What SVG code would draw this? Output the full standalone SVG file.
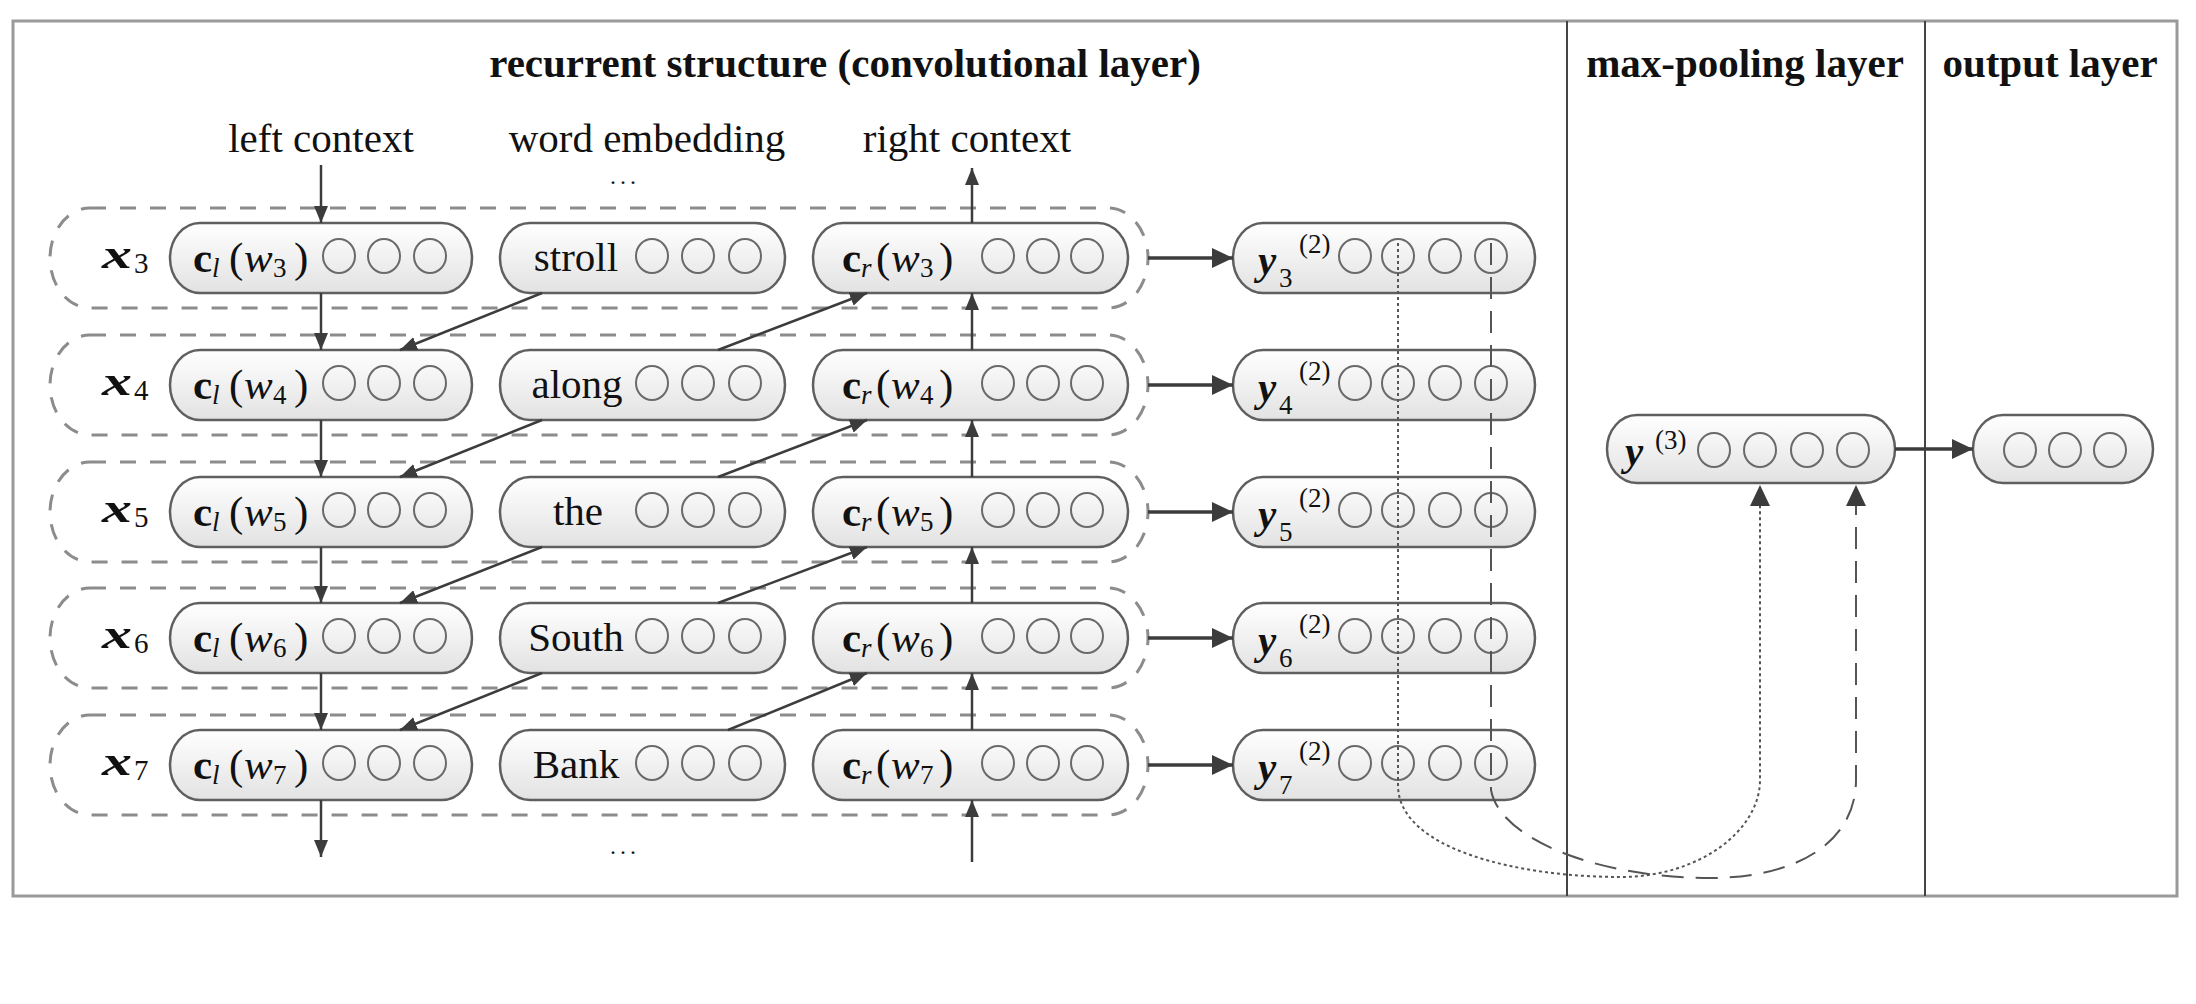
<svg xmlns="http://www.w3.org/2000/svg" width="2196" height="1004" viewBox="0 0 2196 1004">
<style>
.t{font-family:"Liberation Serif","Times New Roman",serif;font-size:41px;fill:#111}
.n{font-size:43px}
.b{font-weight:bold}
.i{font-style:italic}
.sub{font-size:27px}
.ell{font-size:24px;letter-spacing:4px}
.node{fill:url(#ng);stroke:#5f5f5f;stroke-width:2.5}
.cir{fill:none;stroke:#6a6a6a;stroke-width:2}
.grp{fill:none;stroke:#8c8c8c;stroke-width:3;stroke-dasharray:16 14}
.arr{fill:none;stroke:#3c3c3c;stroke-width:2.5;marker-end:url(#as)}
.harr{fill:none;stroke:#3c3c3c;stroke-width:3.5;marker-end:url(#ah)}
.dot{fill:none;stroke:#555;stroke-width:2;stroke-dasharray:3 3;marker-end:url(#ah)}
.dash{fill:none;stroke:#555;stroke-width:2;stroke-dasharray:22 12;marker-end:url(#ah)}
</style>
<defs>
<linearGradient id="ng" x1="0" y1="0" x2="0" y2="1">
<stop offset="0" stop-color="#ffffff"/>
<stop offset="1" stop-color="#e2e2e2"/>
</linearGradient>
<marker id="as" markerUnits="userSpaceOnUse" markerWidth="17" markerHeight="14" refX="17" refY="7" orient="auto">
<path d="M0,0 L17,7 L0,14 z" fill="#3c3c3c"/>
</marker>
<marker id="ah" markerUnits="userSpaceOnUse" markerWidth="21" markerHeight="20" refX="21" refY="10" orient="auto">
<path d="M0,0 L21,10 L0,20 z" fill="#3c3c3c"/>
</marker>
</defs>
<rect width="2196" height="1004" fill="#fff"/>
<g id="frame">
<rect x="13" y="21" width="2164" height="875" fill="none" stroke="#9a9a9a" stroke-width="3"/>
<line x1="1567" y1="21" x2="1567" y2="896" stroke="#444" stroke-width="2"/>
<line x1="1925" y1="21" x2="1925" y2="896" stroke="#444" stroke-width="2"/>
</g>
<g id="headers">
<text class="t b" x="845" y="77" text-anchor="middle">recurrent structure (convolutional layer)</text>
<text class="t b" x="1745" y="77" text-anchor="middle">max-pooling layer</text>
<text class="t b" x="2050" y="77" text-anchor="middle">output layer</text>
<text class="t" x="321" y="152" text-anchor="middle">left context</text>
<text class="t" x="647" y="152" text-anchor="middle">word embedding</text>
<text class="t" x="967" y="152" text-anchor="middle">right context</text>
<text class="t ell" x="625" y="184" text-anchor="middle">...</text>
<text class="t ell" x="625" y="854" text-anchor="middle">...</text>
</g>
<g id="groups">
<rect class="grp" x="50" y="208" width="1098" height="100" rx="40" ry="50"/>
<rect class="grp" x="50" y="335" width="1098" height="100" rx="40" ry="50"/>
<rect class="grp" x="50" y="462" width="1098" height="100" rx="40" ry="50"/>
<rect class="grp" x="50" y="588" width="1098" height="100" rx="40" ry="50"/>
<rect class="grp" x="50" y="715" width="1098" height="100" rx="40" ry="50"/>
</g>
<g id="row3">
<g id="x3"><text class="t"><tspan class="b i" x="102" y="268" textLength="30" lengthAdjust="spacingAndGlyphs">x</tspan><tspan x="134" y="273" font-size="29">3</tspan></text></g>
<g id="cl3"><rect class="node" x="170" y="223" width="302" height="70" rx="30" ry="35"/><text class="t n"><tspan class="b" x="193" y="272">c</tspan><tspan class="i sub" x="212" y="277">l</tspan><tspan x="229" y="272">(</tspan><tspan class="i" x="244" y="272">w</tspan><tspan class="sub" x="273" y="277">3</tspan><tspan x="294" y="272">)</tspan></text><ellipse class="cir" cx="339" cy="256" rx="16" ry="17"/><ellipse class="cir" cx="384" cy="256" rx="16" ry="17"/><ellipse class="cir" cx="430" cy="256" rx="16" ry="17"/></g>
<g id="word3"><rect class="node" x="500" y="223" width="285" height="70" rx="30" ry="35"/><text class="t" x="576" y="271" text-anchor="middle">stroll</text><ellipse class="cir" cx="652" cy="256" rx="16" ry="17"/><ellipse class="cir" cx="698" cy="256" rx="16" ry="17"/><ellipse class="cir" cx="745" cy="256" rx="16" ry="17"/></g>
<g id="cr3"><rect class="node" x="813" y="223" width="315" height="70" rx="30" ry="35"/><text class="t n"><tspan class="b" x="842" y="272">c</tspan><tspan class="i sub" x="861" y="277">r</tspan><tspan x="876" y="272">(</tspan><tspan class="i" x="891" y="272">w</tspan><tspan class="sub" x="920" y="277">3</tspan><tspan x="939" y="272">)</tspan></text><ellipse class="cir" cx="998" cy="256" rx="16" ry="17"/><ellipse class="cir" cx="1043" cy="256" rx="16" ry="17"/><ellipse class="cir" cx="1087" cy="256" rx="16" ry="17"/></g>
<g id="y3"><rect class="node" x="1233" y="223" width="302" height="70" rx="30" ry="35"/><text class="t"><tspan class="b i" x="1258" y="274">y</tspan><tspan class="sub" x="1279" y="287">3</tspan><tspan class="sub" x="1299" y="253">(2)</tspan></text><ellipse class="cir" cx="1355" cy="256" rx="16" ry="17"/><ellipse class="cir" cx="1398" cy="256" rx="16" ry="17"/><ellipse class="cir" cx="1445" cy="256" rx="16" ry="17"/><ellipse class="cir" cx="1491" cy="256" rx="16" ry="17"/></g>
</g>
<g id="row4" transform="translate(0,127)">
<g id="x4"><text class="t"><tspan class="b i" x="102" y="268" textLength="30" lengthAdjust="spacingAndGlyphs">x</tspan><tspan x="134" y="273" font-size="29">4</tspan></text></g>
<g id="cl4"><rect class="node" x="170" y="223" width="302" height="70" rx="30" ry="35"/><text class="t n"><tspan class="b" x="193" y="272">c</tspan><tspan class="i sub" x="212" y="277">l</tspan><tspan x="229" y="272">(</tspan><tspan class="i" x="244" y="272">w</tspan><tspan class="sub" x="273" y="277">4</tspan><tspan x="294" y="272">)</tspan></text><ellipse class="cir" cx="339" cy="256" rx="16" ry="17"/><ellipse class="cir" cx="384" cy="256" rx="16" ry="17"/><ellipse class="cir" cx="430" cy="256" rx="16" ry="17"/></g>
<g id="word4"><rect class="node" x="500" y="223" width="285" height="70" rx="30" ry="35"/><text class="t" x="577" y="271" text-anchor="middle">along</text><ellipse class="cir" cx="652" cy="256" rx="16" ry="17"/><ellipse class="cir" cx="698" cy="256" rx="16" ry="17"/><ellipse class="cir" cx="745" cy="256" rx="16" ry="17"/></g>
<g id="cr4"><rect class="node" x="813" y="223" width="315" height="70" rx="30" ry="35"/><text class="t n"><tspan class="b" x="842" y="272">c</tspan><tspan class="i sub" x="861" y="277">r</tspan><tspan x="876" y="272">(</tspan><tspan class="i" x="891" y="272">w</tspan><tspan class="sub" x="920" y="277">4</tspan><tspan x="939" y="272">)</tspan></text><ellipse class="cir" cx="998" cy="256" rx="16" ry="17"/><ellipse class="cir" cx="1043" cy="256" rx="16" ry="17"/><ellipse class="cir" cx="1087" cy="256" rx="16" ry="17"/></g>
<g id="y4"><rect class="node" x="1233" y="223" width="302" height="70" rx="30" ry="35"/><text class="t"><tspan class="b i" x="1258" y="274">y</tspan><tspan class="sub" x="1279" y="287">4</tspan><tspan class="sub" x="1299" y="253">(2)</tspan></text><ellipse class="cir" cx="1355" cy="256" rx="16" ry="17"/><ellipse class="cir" cx="1398" cy="256" rx="16" ry="17"/><ellipse class="cir" cx="1445" cy="256" rx="16" ry="17"/><ellipse class="cir" cx="1491" cy="256" rx="16" ry="17"/></g>
</g>
<g id="row5" transform="translate(0,254)">
<g id="x5"><text class="t"><tspan class="b i" x="102" y="268" textLength="30" lengthAdjust="spacingAndGlyphs">x</tspan><tspan x="134" y="273" font-size="29">5</tspan></text></g>
<g id="cl5"><rect class="node" x="170" y="223" width="302" height="70" rx="30" ry="35"/><text class="t n"><tspan class="b" x="193" y="272">c</tspan><tspan class="i sub" x="212" y="277">l</tspan><tspan x="229" y="272">(</tspan><tspan class="i" x="244" y="272">w</tspan><tspan class="sub" x="273" y="277">5</tspan><tspan x="294" y="272">)</tspan></text><ellipse class="cir" cx="339" cy="256" rx="16" ry="17"/><ellipse class="cir" cx="384" cy="256" rx="16" ry="17"/><ellipse class="cir" cx="430" cy="256" rx="16" ry="17"/></g>
<g id="word5"><rect class="node" x="500" y="223" width="285" height="70" rx="30" ry="35"/><text class="t" x="578" y="271" text-anchor="middle">the</text><ellipse class="cir" cx="652" cy="256" rx="16" ry="17"/><ellipse class="cir" cx="698" cy="256" rx="16" ry="17"/><ellipse class="cir" cx="745" cy="256" rx="16" ry="17"/></g>
<g id="cr5"><rect class="node" x="813" y="223" width="315" height="70" rx="30" ry="35"/><text class="t n"><tspan class="b" x="842" y="272">c</tspan><tspan class="i sub" x="861" y="277">r</tspan><tspan x="876" y="272">(</tspan><tspan class="i" x="891" y="272">w</tspan><tspan class="sub" x="920" y="277">5</tspan><tspan x="939" y="272">)</tspan></text><ellipse class="cir" cx="998" cy="256" rx="16" ry="17"/><ellipse class="cir" cx="1043" cy="256" rx="16" ry="17"/><ellipse class="cir" cx="1087" cy="256" rx="16" ry="17"/></g>
<g id="y5"><rect class="node" x="1233" y="223" width="302" height="70" rx="30" ry="35"/><text class="t"><tspan class="b i" x="1258" y="274">y</tspan><tspan class="sub" x="1279" y="287">5</tspan><tspan class="sub" x="1299" y="253">(2)</tspan></text><ellipse class="cir" cx="1355" cy="256" rx="16" ry="17"/><ellipse class="cir" cx="1398" cy="256" rx="16" ry="17"/><ellipse class="cir" cx="1445" cy="256" rx="16" ry="17"/><ellipse class="cir" cx="1491" cy="256" rx="16" ry="17"/></g>
</g>
<g id="row6" transform="translate(0,380)">
<g id="x6"><text class="t"><tspan class="b i" x="102" y="268" textLength="30" lengthAdjust="spacingAndGlyphs">x</tspan><tspan x="134" y="273" font-size="29">6</tspan></text></g>
<g id="cl6"><rect class="node" x="170" y="223" width="302" height="70" rx="30" ry="35"/><text class="t n"><tspan class="b" x="193" y="272">c</tspan><tspan class="i sub" x="212" y="277">l</tspan><tspan x="229" y="272">(</tspan><tspan class="i" x="244" y="272">w</tspan><tspan class="sub" x="273" y="277">6</tspan><tspan x="294" y="272">)</tspan></text><ellipse class="cir" cx="339" cy="256" rx="16" ry="17"/><ellipse class="cir" cx="384" cy="256" rx="16" ry="17"/><ellipse class="cir" cx="430" cy="256" rx="16" ry="17"/></g>
<g id="word6"><rect class="node" x="500" y="223" width="285" height="70" rx="30" ry="35"/><text class="t" x="576" y="271" text-anchor="middle">South</text><ellipse class="cir" cx="652" cy="256" rx="16" ry="17"/><ellipse class="cir" cx="698" cy="256" rx="16" ry="17"/><ellipse class="cir" cx="745" cy="256" rx="16" ry="17"/></g>
<g id="cr6"><rect class="node" x="813" y="223" width="315" height="70" rx="30" ry="35"/><text class="t n"><tspan class="b" x="842" y="272">c</tspan><tspan class="i sub" x="861" y="277">r</tspan><tspan x="876" y="272">(</tspan><tspan class="i" x="891" y="272">w</tspan><tspan class="sub" x="920" y="277">6</tspan><tspan x="939" y="272">)</tspan></text><ellipse class="cir" cx="998" cy="256" rx="16" ry="17"/><ellipse class="cir" cx="1043" cy="256" rx="16" ry="17"/><ellipse class="cir" cx="1087" cy="256" rx="16" ry="17"/></g>
<g id="y6"><rect class="node" x="1233" y="223" width="302" height="70" rx="30" ry="35"/><text class="t"><tspan class="b i" x="1258" y="274">y</tspan><tspan class="sub" x="1279" y="287">6</tspan><tspan class="sub" x="1299" y="253">(2)</tspan></text><ellipse class="cir" cx="1355" cy="256" rx="16" ry="17"/><ellipse class="cir" cx="1398" cy="256" rx="16" ry="17"/><ellipse class="cir" cx="1445" cy="256" rx="16" ry="17"/><ellipse class="cir" cx="1491" cy="256" rx="16" ry="17"/></g>
</g>
<g id="row7" transform="translate(0,507)">
<g id="x7"><text class="t"><tspan class="b i" x="102" y="268" textLength="30" lengthAdjust="spacingAndGlyphs">x</tspan><tspan x="134" y="273" font-size="29">7</tspan></text></g>
<g id="cl7"><rect class="node" x="170" y="223" width="302" height="70" rx="30" ry="35"/><text class="t n"><tspan class="b" x="193" y="272">c</tspan><tspan class="i sub" x="212" y="277">l</tspan><tspan x="229" y="272">(</tspan><tspan class="i" x="244" y="272">w</tspan><tspan class="sub" x="273" y="277">7</tspan><tspan x="294" y="272">)</tspan></text><ellipse class="cir" cx="339" cy="256" rx="16" ry="17"/><ellipse class="cir" cx="384" cy="256" rx="16" ry="17"/><ellipse class="cir" cx="430" cy="256" rx="16" ry="17"/></g>
<g id="word7"><rect class="node" x="500" y="223" width="285" height="70" rx="30" ry="35"/><text class="t" x="576" y="271" text-anchor="middle">Bank</text><ellipse class="cir" cx="652" cy="256" rx="16" ry="17"/><ellipse class="cir" cx="698" cy="256" rx="16" ry="17"/><ellipse class="cir" cx="745" cy="256" rx="16" ry="17"/></g>
<g id="cr7"><rect class="node" x="813" y="223" width="315" height="70" rx="30" ry="35"/><text class="t n"><tspan class="b" x="842" y="272">c</tspan><tspan class="i sub" x="861" y="277">r</tspan><tspan x="876" y="272">(</tspan><tspan class="i" x="891" y="272">w</tspan><tspan class="sub" x="920" y="277">7</tspan><tspan x="939" y="272">)</tspan></text><ellipse class="cir" cx="998" cy="256" rx="16" ry="17"/><ellipse class="cir" cx="1043" cy="256" rx="16" ry="17"/><ellipse class="cir" cx="1087" cy="256" rx="16" ry="17"/></g>
<g id="y7"><rect class="node" x="1233" y="223" width="302" height="70" rx="30" ry="35"/><text class="t"><tspan class="b i" x="1258" y="274">y</tspan><tspan class="sub" x="1279" y="287">7</tspan><tspan class="sub" x="1299" y="253">(2)</tspan></text><ellipse class="cir" cx="1355" cy="256" rx="16" ry="17"/><ellipse class="cir" cx="1398" cy="256" rx="16" ry="17"/><ellipse class="cir" cx="1445" cy="256" rx="16" ry="17"/><ellipse class="cir" cx="1491" cy="256" rx="16" ry="17"/></g>
</g>
<g id="pool">
<rect class="node" x="1607" y="415" width="288" height="68" rx="30" ry="34"/>
<text class="t"><tspan class="b i" x="1625" y="465">y</tspan><tspan class="sub" x="1655" y="449">(3)</tspan></text>
<ellipse class="cir" cx="1714" cy="450" rx="16" ry="17"/><ellipse class="cir" cx="1760" cy="450" rx="16" ry="17"/><ellipse class="cir" cx="1807" cy="450" rx="16" ry="17"/><ellipse class="cir" cx="1853" cy="450" rx="16" ry="17"/>
</g>
<g id="output">
<rect class="node" x="1973" y="415" width="180" height="68" rx="30" ry="34"/>
<ellipse class="cir" cx="2020" cy="450" rx="16" ry="17"/><ellipse class="cir" cx="2065" cy="450" rx="16" ry="17"/><ellipse class="cir" cx="2110" cy="450" rx="16" ry="17"/>
</g>
<g id="connectors">
<path class="arr" d="M321 165 V223"/>
<path class="arr" d="M321 293 V350"/>
<path class="arr" d="M321 420 V477"/>
<path class="arr" d="M321 547 V603"/>
<path class="arr" d="M321 673 V730"/>
<path class="arr" d="M321 800 V857"/>
<path class="arr" d="M972 223 V168"/>
<path class="arr" d="M972 350 V293"/>
<path class="arr" d="M972 477 V420"/>
<path class="arr" d="M972 603 V547"/>
<path class="arr" d="M972 730 V673"/>
<path class="arr" d="M972 862 V800"/>
<path class="arr" d="M542 293 L400 350"/>
<path class="arr" d="M542 420 L400 477"/>
<path class="arr" d="M542 547 L400 603"/>
<path class="arr" d="M542 673 L400 730"/>
<path class="arr" d="M718 350 L867 293"/>
<path class="arr" d="M718 477 L867 420"/>
<path class="arr" d="M718 603 L867 547"/>
<path class="arr" d="M728 730 L867 673"/>
<path class="harr" d="M1148 258 H1233"/>
<path class="harr" d="M1148 385 H1233"/>
<path class="harr" d="M1148 512 H1233"/>
<path class="harr" d="M1148 638 H1233"/>
<path class="harr" d="M1148 765 H1233"/>
<path class="harr" d="M1895 449 H1973"/>
<path class="dot" d="M1398 243 V785 C1398 850 1520 877 1620 877 C1700 877 1760 830 1760 780 V485"/>
<path class="dash" d="M1491 243 V790 C1500 840 1600 878 1710 878 C1800 878 1856 840 1856 780 V485"/>
</g>
</svg>
